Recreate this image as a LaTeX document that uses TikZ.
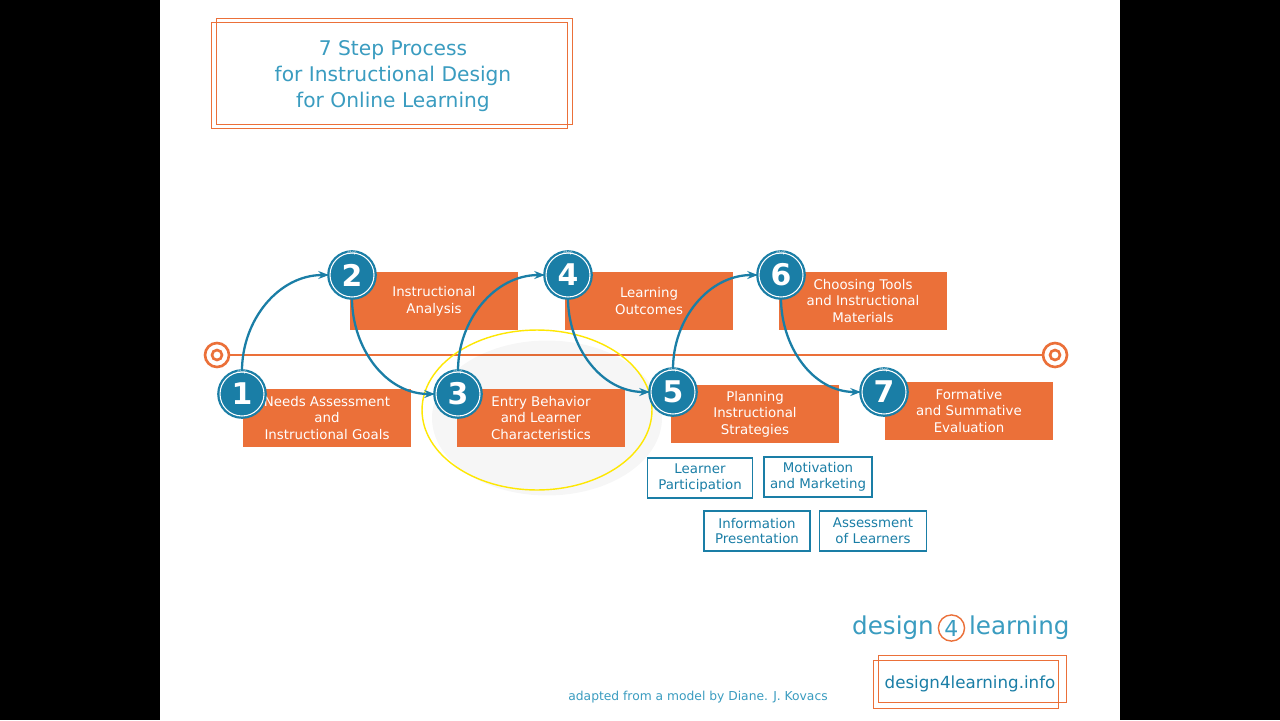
\documentclass[tikz,border=0pt]{standalone}
\usepackage{fontspec}
\setmainfont{DejaVu Sans}
\usetikzlibrary{positioning,shapes.geometric,arrows.meta}
\definecolor{stepblue}{HTML}{1A7EA6}
\definecolor{textblue}{HTML}{3A9CC0}
\definecolor{steporange}{HTML}{EB7039}

\begin{document}
\begin{tikzpicture}[x=0.02cm,y=-0.02cm,
    box/.style={fill=steporange, text=white, align=center, minimum width=3.36cm, minimum height=1.16cm, inner sep=1pt, font=\fontsize{7.6}{9.5}\selectfont},
    stepnum/.style={circle, fill=stepblue, draw=stepblue, double=white, double distance=0.6pt, line width=1.3pt, minimum size=0.88cm, inner sep=0pt, text=white, font=\fontsize{17}{17}\selectfont\bfseries},
    sub/.style={draw=stepblue, thick, text=stepblue, align=center, minimum height=0.8cm, inner sep=1pt, font=\fontsize{7.6}{9}\selectfont},
    flow/.style={stepblue, line width=1.3pt, -{Stealth[length=6pt]}}]
    \fill[black] (0,0) rectangle (1280,720);
    \fill[white] (160,0) rectangle (1120,720);

    % title
    \draw[steporange] (211,22) rectangle (567,128);
    \draw[steporange] (216,18) rectangle (572,124);
    \node[text=textblue, align=center, font=\fontsize{11.5}{15}\selectfont] (title) at (393,76)
        {7 Step Process\\for Instructional Design\\for Online Learning};

    % time line
    \coordinate (tl) at (217,355);
    \coordinate (tr) at (1055,355);
    \draw[steporange, line width=1.5pt] (tl) -- (tr);
    \foreach \c in {tl,tr} {
        \draw[steporange, line width=1.5pt, fill=white] (\c) circle (0.24cm);
        \draw[steporange, line width=1.5pt] (\c) circle (0.1cm);
    }

    % highlight
    \fill[black, opacity=0.035] (547,418) ellipse [x radius=2.3cm, y radius=1.55cm];
    \draw[yellow!90!orange, thick] (537,410) ellipse [x radius=2.3cm, y radius=1.6cm];

    % boxes
    \node[box] (b1) at (327,418) {Needs Assessment\\and\\Instructional Goals};
    \node[box] (b2) at (434,301) {Instructional\\Analysis};
    \node[box] (b3) at (541,418) {Entry Behavior\\and Learner\\Characteristics};
    \node[box] (b4) at (649,301) {Learning\\Outcomes};
    \node[box] (b5) at (755,414) {Planning\\Instructional\\Strategies};
    \node[box] (b6) at (863,301) {Choosing Tools\\and Instructional\\Materials};
    \node[box] (b7) at (969,411) {Formative\\and Summative\\Evaluation};

    % steps
    \foreach \n/\x/\y in {1/242/394, 2/352/275, 3/458/394, 4/568/275, 5/673/392, 6/781/275, 7/884/392} {
        \node[stepnum] (s\n) at (\x,\y) {\n};
        \node[text=white, font=\fontsize{2.5}{3}\selectfont, above=-0.2cm of s\n.north] (t\n) {step};
    }

    % flow
    \foreach \a/\b in {1/2, 3/4, 5/6}
        \draw[flow] (s\a.north) to[out=90, in=180] (s\b.west);
    \foreach \a/\b in {2/3, 4/5, 6/7}
        \draw[flow] (s\a.south) to[out=-90, in=180] (s\b.west);

    % strategies
    \node[sub, minimum width=2.1cm] (lp) at (700,478) {Learner\\Participation};
    \node[sub, minimum width=2.16cm] (mm) at (818,477) {Motivation\\and Marketing};
    \node[sub, minimum width=2.12cm] (ip) at (757,531) {Information\\Presentation};
    \node[sub, minimum width=2.14cm] (al) at (873,531) {Assessment\\of Learners};

    % logo
    \node[text=textblue, font=\fontsize{14}{14}\selectfont, inner sep=1pt] (lg1) at (893,628) {design};
    \node[circle, draw=steporange, thick, inner sep=1pt, text=textblue, font=\fontsize{12.5}{13}\selectfont] (lg2) [right=1pt of lg1] {4};
    \node[text=textblue, font=\fontsize{14}{14}\selectfont, inner sep=1pt] (lg3) [right=1pt of lg2] {learning};
    \draw[steporange] (873,660) rectangle (1058,708);
    \draw[steporange] (878,655) rectangle (1066,702);
    \node[text=stepblue, font=\fontsize{9.5}{11}\selectfont] (url) at (970,684) {design4learning.info};
    \node[text=textblue, font=\fontsize{7}{8}\selectfont] (src) at (698,697) {adapted from a model by Diane. J. Kovacs};
\end{tikzpicture}
\end{document}
